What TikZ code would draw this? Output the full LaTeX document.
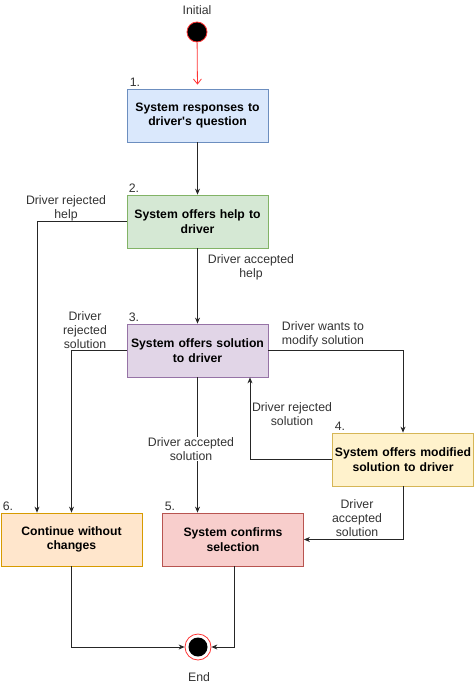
\documentclass[tikz,border=0pt]{standalone}
\usepackage{fontspec}
\setmainfont{Liberation Sans}[Ligatures=TeXOff]
\usetikzlibrary{arrows.meta}
\definecolor{bluef}{HTML}{DAE8FC}\definecolor{blues}{HTML}{6C8EBF}
\definecolor{greenf}{HTML}{D5E8D4}\definecolor{greens}{HTML}{82B366}
\definecolor{purpf}{HTML}{E1D5E7}\definecolor{purps}{HTML}{9673A6}
\definecolor{yelf}{HTML}{FFF2CC}\definecolor{yels}{HTML}{D6B656}
\definecolor{orf}{HTML}{FFE6CC}\definecolor{ors}{HTML}{D79B00}
\definecolor{redf}{HTML}{F8CECC}\definecolor{reds}{HTML}{B85450}
\definecolor{lblgray}{HTML}{333333}
\definecolor{initred}{HTML}{FF3333}
\begin{document}
\begin{tikzpicture}[x=1pt,y=-1pt,
  box/.style={draw, line width=0.8pt, minimum width=141pt, minimum height=53pt, inner sep=0pt,
    font=\fontsize{12.2}{14.5}\selectfont\bfseries, align=center, text width=140pt},
  lbl/.style={font=\fontsize{12.3}{14}\selectfont, text=lblgray, align=center, inner sep=0pt},
  num/.style={font=\fontsize{12.3}{14}\selectfont, text=lblgray, inner sep=0pt},
  arr/.style={draw=black!85, line width=0.8pt, -{Stealth[length=6pt,width=5pt]}},
]
\useasboundingbox (0,0) rectangle (474,688);

% start and end
\node[lbl] (tinit) at (197,10) {Initial};
\node[circle, fill=black, draw=initred, line width=0.8pt, minimum size=20pt, inner sep=0pt] (init) at (197,32) {};
\node[circle, fill=white, draw=initred, line width=0.8pt, minimum size=26pt, inner sep=0pt] (endo) at (198,647) {};
\node[circle, fill=black, minimum size=19pt, inner sep=0pt] (endi) at (198,647) {};
\node[lbl] (tend) at (199,677) {End};

% boxes
\node[box, fill=bluef, draw=blues] (b1) at (197.5,115.5) {System responses to\\driver's question};
\node[box, fill=greenf, draw=greens] (b2) at (197.5,221.5) {System offers help to\\driver};
\node[box, fill=purpf, draw=purps] (b3) at (197.5,350.5) {System offers solution\\to driver};
\node[box, fill=yelf, draw=yels] (b4) at (403,459.5) {System offers modified\\solution to driver};
\node[box, fill=orf, draw=ors] (b6) at (71.5,539.5) {Continue without\\changes};
\node[box, fill=redf, draw=reds] (b5) at (233,539.5) {System confirms\\selection};

% numbers
\node[num] (n1) at (135,82) {1.};
\node[num] (n2) at (134,188) {2.};
\node[num] (n3) at (134,317) {3.};
\node[num] (n4) at (340,426) {4.};
\node[num] (n6) at (8,506) {6.};
\node[num] (n5) at (170,506) {5.};

% connectors
\draw[initred, line width=0.8pt, -{Straight Barb[length=5pt,width=8pt]}, shorten >=4pt] (init) -- (b1.north);
\draw[arr] (b1) -- (b2);
\draw[arr] (b2.west) -| ([xshift=-34.5pt]b6.north);
\draw[arr] (b2) -- (b3);
\draw[arr] (b3.west) -| (b6.north);
\draw[arr] (b3.east) -| (b4.north);
\draw[arr] (b4.west) -| ([xshift=52.5pt]b3.south);
\draw[arr] (b3.south) -- (b3.south |- b5.north);
\draw[arr] (b4.south) |- (b5.east);
\draw[arr] (b6.south) |- (endo.west);
\draw[arr] ([xshift=1pt]b5.south) |- (endo.east);

% labels
\node[lbl, fill=white] (l1) at (66,208) {Driver rejected\\help};
\node[lbl, fill=white] (l2) at (251,267) {Driver accepted\\help};
\node[lbl, fill=white] (l3) at (85,330) {Driver\\rejected\\solution};
\node[lbl, fill=white] (l4) at (323,334) {Driver wants to\\modify solution};
\node[lbl, fill=white] (l5) at (292,414.5) {Driver rejected\\solution};
\node[lbl, fill=white] (l6) at (191,449) {Driver accepted\\solution};
\node[lbl, fill=white] (l7) at (357,518) {Driver\\accepted\\solution};
\end{tikzpicture}
\end{document}
